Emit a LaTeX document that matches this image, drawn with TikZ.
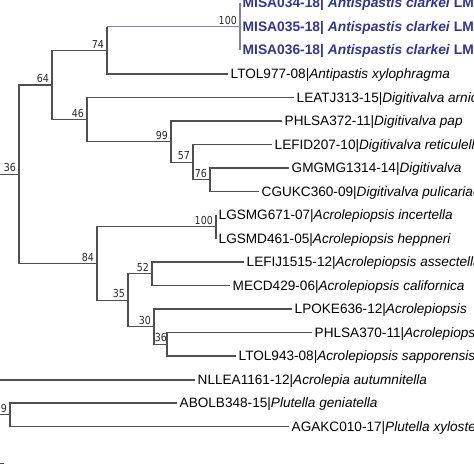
\documentclass[tikz,border=0pt]{standalone}
\usepackage{fontspec}
\newfontfamily\leaffont{Liberation Sans}
\newfontfamily\bsfont[FakeStretch=0.86]{DejaVu Sans}
\definecolor{brgray}{RGB}{80,80,80}
\definecolor{lav}{RGB}{128,128,178}
\definecolor{bluetxt}{RGB}{52,52,150}
\definecolor{bstxt}{RGB}{40,40,40}
\tikzset{
  br/.style={draw=brgray, line width=1.2pt},
  bl/.style={draw=lav, line width=1.2pt},
  leaf/.style={anchor=west, inner xsep=2.5pt, inner ysep=0pt, text height=9.7pt, text depth=0pt, font=\leaffont\fontsize{13.6pt}{14pt}\selectfont, text=black},
  blueleaf/.style={leaf, font=\leaffont\bfseries\fontsize{13.8pt}{14pt}\selectfont, text=bluetxt},
  bs/.style={anchor=south east, inner sep=0pt, xshift=-3pt, yshift=2pt, font=\bsfont\fontsize{11pt}{11pt}\selectfont, text=bstxt}
}
\begin{document}
\begin{tikzpicture}[x=1pt, y=-1pt]
\useasboundingbox (0,0) rectangle (474,474);
% leaf tips
\coordinate (t1) at (240,3);
\coordinate (t2) at (240,26.5);
\coordinate (t3) at (240,50);
\coordinate (t4) at (228,74);
\coordinate (t5) at (294,97.5);
\coordinate (t6) at (282,121);
\coordinate (t7) at (272,144.5);
\coordinate (t8) at (289,168);
\coordinate (t9) at (259,191.5);
\coordinate (t10) at (216,215);
\coordinate (t11) at (216,238.5);
\coordinate (t12) at (244,262);
\coordinate (t13) at (230,285.5);
\coordinate (t14) at (292,309);
\coordinate (t15) at (312,332.5);
\coordinate (t16) at (236,356);
\coordinate (t17) at (195,380);
\coordinate (t18) at (177,403);
\coordinate (t19) at (289,426.5);
% internal nodes
\coordinate (a100) at (240,26.5);
\coordinate (n74) at (107,50.25);
\coordinate (n76) at (210,179.75);
\coordinate (n57) at (193,162.1);
\coordinate (n99) at (171,141.6);
\coordinate (n46) at (87,119.5);
\coordinate (n64) at (52,84.9);
\coordinate (b100) at (216,226.75);
\coordinate (n36b) at (167,344.25);
\coordinate (n30) at (154,326.6);
\coordinate (n52) at (152,273.75);
\coordinate (n35) at (128,300.2);
\coordinate (n84) at (97,263.5);
\coordinate (root) at (19,174.2);
\coordinate (p99) at (10,414.75);
\coordinate (r0) at (0,174.2);
\coordinate (s17) at (0,380);
\coordinate (s99) at (0,414.75);
\coordinate (sb1) at (0,463);
\coordinate (sb2) at (4,463);
% branches
\draw[bl] (t1) -- (t3);
\draw[bl] (a100) -- (n74 |- a100);
\draw[br] (n74 |- a100) |- (t4);
\draw[br] (t8) -| (n76) |- (t9);
\draw[br] (t7) -| (n57) |- (n76);
\draw[br] (t6) -| (n99) |- (n57);
\draw[br] (t5) -| (n46) |- (n99);
\draw[br] (n74) -| (n64) |- (n46);
\draw[br] (t10) -- (t11);
\draw[br] (t15) -| (n36b) |- (t16);
\draw[br] (t14) -| (n30) |- (n36b);
\draw[br] (t12) -| (n52) |- (t13);
\draw[br] (n52) -| (n35) |- (n30);
\draw[br] (b100) -| (n84) |- (n35);
\draw[br] (n64) -| (root) |- (n84);
\draw[br] (r0) -- (root);
\draw[br] (s17) -- (t17);
\draw[br] (s99) -- (p99);
\draw[br] (t18) -| (p99) |- (t19);
\draw[br, line width=1pt] (sb1) -- (sb2);
% leaves
\node[blueleaf] (L1) at (t1) {MISA034-18| \textit{Antispastis clarkei} LM};
\node[blueleaf] (L2) at (t2) {MISA035-18| \textit{Antispastis clarkei} LM};
\node[blueleaf] (L3) at (t3) {MISA036-18| \textit{Antispastis clarkei} LM};
\node[leaf] (L4) at (t4) {LTOL977-08|\textit{Antipastis xylophragma}};
\node[leaf] (L5) at (t5) {LEATJ313-15|\textit{Digitivalva arnicella}};
\node[leaf] (L6) at (t6) {PHLSA372-11|\textit{Digitivalva pap}};
\node[leaf] (L7) at (t7) {LEFID207-10|\textit{Digitivalva reticulella}};
\node[leaf] (L8) at (t8) {GMGMG1314-14|\textit{Digitivalva}};
\node[leaf] (L9) at (t9) {CGUKC360-09|\textit{Digitivalva pulicariae}};
\node[leaf] (L10) at (t10) {LGSMG671-07|\textit{Acrolepiopsis incertella}};
\node[leaf] (L11) at (t11) {LGSMD461-05|\textit{Acrolepiopsis heppneri}};
\node[leaf] (L12) at (t12) {LEFIJ1515-12|\textit{Acrolepiopsis assectella}};
\node[leaf] (L13) at (t13) {MECD429-06|\textit{Acrolepiopsis californica}};
\node[leaf] (L14) at (t14) {LPOKE636-12|\textit{Acrolepiopsis}};
\node[leaf] (L15) at (t15) {PHLSA370-11|\textit{Acrolepiopsis}};
\node[leaf] (L16) at (t16) {LTOL943-08|\textit{Acrolepiopsis sapporensis}};
\node[leaf] (L17) at (t17) {NLLEA1161-12|\textit{Acrolepia autumnitella}};
\node[leaf] (L18) at (t18) {ABOLB348-15|\textit{Plutella geniatella}};
\node[leaf] (L19) at (t19) {AGAKC010-17|\textit{Plutella xylostella}};
% bootstrap values
\node[bs] (B1) at (a100) {100};
\node[bs] (B2) at (n74) {74};
\node[bs] (B3) at (n64) {64};
\node[bs] (B4) at (n46) {46};
\node[bs] (B5) at (n99) {99};
\node[bs] (B6) at (n57) {57};
\node[bs] (B7) at (n76) {76};
\node[bs] (B8) at (root) {36};
\node[bs] (B9) at (b100) {100};
\node[bs] (B10) at (n84) {84};
\node[bs] (B11) at (n35) {35};
\node[bs] (B12) at (n52) {52};
\node[bs] (B13) at (n30) {30};
\node[bs, xshift=3pt] (B14) at (n36b) {36};
\node[bs] (B15) at (p99) {99};
\end{tikzpicture}
\end{document}
